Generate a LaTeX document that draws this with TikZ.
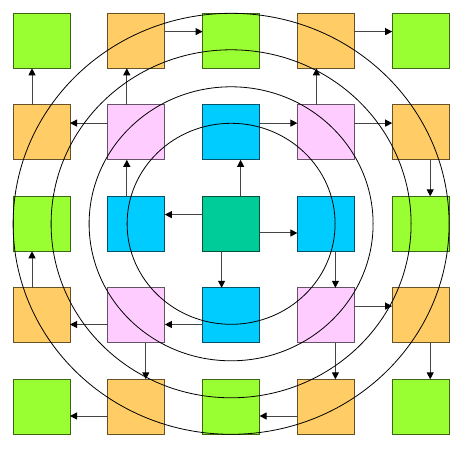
\documentclass[tikz,border=0pt]{standalone}
\usetikzlibrary{arrows.meta}
\definecolor{cG}{HTML}{99FF33}
\definecolor{cO}{HTML}{FFCC66}
\definecolor{cP}{HTML}{FFCCFF}
\definecolor{cC}{HTML}{00CCFF}
\definecolor{cT}{HTML}{00CC99}
\definecolor{arrline}{HTML}{444444}
\begin{document}
\begin{tikzpicture}[x=1pt,y=-1pt,
  box/.style={draw=#1!40!black,fill=#1,line width=1pt,minimum width=57pt,minimum height=55pt,inner sep=0pt,outer sep=0pt},
  arr/.style={draw=arrline,line width=1pt,-{Triangle[length=7pt,width=7pt,color=black]}},
  ring/.style={draw=black,line width=0.8pt}]
\useasboundingbox (0,0) rectangle (474,449);
% row 0
\node[box=cG] (n00) at (41.5,40.8) {};
\node[box=cO] (n01) at (136.3,40.8) {};
\node[box=cG] (n02) at (231.1,40.8) {};
\node[box=cO] (n03) at (325.9,40.8) {};
\node[box=cG] (n04) at (420.7,40.8) {};
% row 1
\node[box=cO] (n10) at (41.5,132.3) {};
\node[box=cP] (n11) at (136.3,132.3) {};
\node[box=cC] (n12) at (231.1,132.3) {};
\node[box=cP] (n13) at (325.9,132.3) {};
\node[box=cO] (n14) at (420.7,132.3) {};
% row 2
\node[box=cG] (n20) at (41.5,223.8) {};
\node[box=cC] (n21) at (136.3,223.8) {};
\node[box=cT] (n22) at (231.1,223.8) {};
\node[box=cC] (n23) at (325.9,223.8) {};
\node[box=cG] (n24) at (420.7,223.8) {};
% row 3
\node[box=cO] (n30) at (41.5,315.3) {};
\node[box=cP] (n31) at (136.3,315.3) {};
\node[box=cC] (n32) at (231.1,315.3) {};
\node[box=cP] (n33) at (325.9,315.3) {};
\node[box=cO] (n34) at (420.7,315.3) {};
% row 4
\node[box=cG] (n40) at (41.5,406.8) {};
\node[box=cO] (n41) at (136.3,406.8) {};
\node[box=cG] (n42) at (231.1,406.8) {};
\node[box=cO] (n43) at (325.9,406.8) {};
\node[box=cG] (n44) at (420.7,406.8) {};
% horizontal arrows, upper third
\draw[arr] ([yshift=9.2pt]n22.west) -- ([yshift=9.2pt]n21.east);
\draw[arr] ([yshift=9.2pt]n12.east) -- ([yshift=9.2pt]n13.west);
\draw[arr] ([yshift=9.2pt]n11.west) -- ([yshift=9.2pt]n10.east);
\draw[arr] ([yshift=9.2pt]n13.east) -- ([yshift=9.2pt]n14.west);
\draw[arr] ([yshift=9.2pt]n01.east) -- ([yshift=9.2pt]n02.west);
\draw[arr] ([yshift=9.2pt]n03.east) -- ([yshift=9.2pt]n04.west);
\draw[arr] ([yshift=9.2pt]n33.east) -- ([yshift=9.2pt]n34.west);
% horizontal arrows, lower third
\draw[arr] ([yshift=-9.2pt]n22.east) -- ([yshift=-9.2pt]n23.west);
\draw[arr] ([yshift=-9.2pt]n32.west) -- ([yshift=-9.2pt]n31.east);
\draw[arr] ([yshift=-9.2pt]n31.west) -- ([yshift=-9.2pt]n30.east);
\draw[arr] ([yshift=-9.2pt]n41.west) -- ([yshift=-9.2pt]n40.east);
\draw[arr] ([yshift=-9.2pt]n43.west) -- ([yshift=-9.2pt]n42.east);
% vertical arrows, left third
\draw[arr] ([xshift=-9.5pt]n22.south) -- ([xshift=-9.5pt]n32.north);
\draw[arr] ([xshift=-9.5pt]n21.north) -- ([xshift=-9.5pt]n11.south);
\draw[arr] ([xshift=-9.5pt]n11.north) -- ([xshift=-9.5pt]n01.south);
\draw[arr] ([xshift=-9.5pt]n13.north) -- ([xshift=-9.5pt]n03.south);
\draw[arr] ([xshift=-9.5pt]n10.north) -- ([xshift=-9.5pt]n00.south);
\draw[arr] ([xshift=-9.5pt]n30.north) -- ([xshift=-9.5pt]n20.south);
% vertical arrows, right third
\draw[arr] ([xshift=9.5pt]n22.north) -- ([xshift=9.5pt]n12.south);
\draw[arr] ([xshift=9.5pt]n23.south) -- ([xshift=9.5pt]n33.north);
\draw[arr] ([xshift=9.5pt]n33.south) -- ([xshift=9.5pt]n43.north);
\draw[arr] ([xshift=9.5pt]n31.south) -- ([xshift=9.5pt]n41.north);
\draw[arr] ([xshift=9.5pt]n14.south) -- ([xshift=9.5pt]n24.north);
\draw[arr] ([xshift=9.5pt]n34.south) -- ([xshift=9.5pt]n44.north);
% rings
\draw[ring] (n22.center) ellipse [x radius=104pt, y radius=100.5pt];
\draw[ring] (n22.center) ellipse [x radius=142pt, y radius=137pt];
\draw[ring] (n22.center) ellipse [x radius=180pt, y radius=174pt];
\draw[ring] (n22.center) ellipse [x radius=218pt, y radius=210.5pt];
\end{tikzpicture}
\end{document}
